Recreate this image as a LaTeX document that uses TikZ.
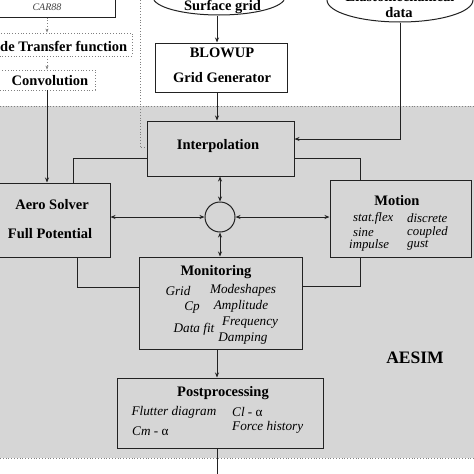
\documentclass[tikz,border=0pt]{standalone}
\usepackage{fontspec}
\setmainfont{Liberation Serif}
\usetikzlibrary{arrows.meta,shapes.geometric}
\definecolor{bg}{RGB}{214,214,214}
\definecolor{ln}{RGB}{34,34,34}
\begin{document}
\begin{tikzpicture}[x=1pt,y=-1pt,
  box/.style={draw=ln, line width=1pt, fill=bg, inner sep=0pt, rectangle},
  wbox/.style={box, fill=white},
  dbox/.style={draw=gray, dotted, line width=0.8pt, fill=white, inner sep=0pt, rectangle},
  oval/.style={draw=ln, line width=1pt, fill=white, ellipse, inner sep=0pt},
  lab/.style={font=\fontsize{14.5}{16}\selectfont\bfseries, inner sep=0pt, text=black},
  itm/.style={font=\fontsize{12.8}{14}\selectfont\itshape, inner sep=0pt, text=black},
  itp/.style={font=\fontsize{13.2}{15}\selectfont\itshape, inner sep=0pt, text=black},
  con/.style={draw=ln, line width=1pt},
  arr/.style={con, -{Stealth[length=5pt,width=4pt]}},
  darr/.style={con, {Stealth[length=5pt,width=4pt]}-{Stealth[length=5pt,width=4pt]}},
  dcon/.style={draw=gray, dotted, line width=0.8pt},
]
\useasboundingbox (0,0) rectangle (474,474);
% gray region
\fill[bg] (0,106) rectangle (474,458);
\coordinate (gl) at (0,106);
\coordinate (gr) at (474,106);
\coordinate (bl) at (0,458);
\coordinate (br) at (474,458);
\draw[dcon] (gl) -- (gr);
\draw[dcon] (bl) -- (br);

% column helpers
\coordinate (colx) at (47,0);
\coordinate (colc) at (217,0);
\coordinate (bendl) at (73,158);
\coordinate (bendr) at (360,158);
\coordinate (bendml) at (77,287);
\coordinate (bendmr) at (360,286);
\coordinate (dotv) at (140,147);
\coordinate (dott) at (140,0);
\coordinate (bottom) at (217,474);

% top-left boxes
\node[wbox, minimum width=125pt, minimum height=37pt] (car) at (52.5,-1.5) {};
\node[font=\fontsize{10}{12}\selectfont\itshape, text=black!75, inner sep=0pt] (carl) at (47,7) {CAR88};
\node[dbox, minimum width=152pt, minimum height=23pt] (tf) at (56,44.5) {};
\node[lab, anchor=west] (tfl) at (0,46) {de Transfer function};
\node[dbox, minimum width=98pt, minimum height=20pt] (conv) at (46,80) {};
\node[lab] (convl) at (50,80.5) {Convolution};

% ellipses
\node[oval, minimum width=132pt, minimum height=36pt] (surf) at (219,-3) {};
\node[lab] (surfl) at (222.5,7) {Surface grid};
\node[oval, minimum width=146pt, minimum height=44pt] (elas) at (400,0) {};
\node[lab] (elasl1) at (400,-3) {Elastomechanical};
\node[lab] (elasl2) at (399,12.5) {data};

% BLOWUP
\node[wbox, minimum width=132pt, minimum height=49pt] (blow) at (221,67.5) {};
\node[lab] (blowl1) at (222,53) {BLOWUP};
\node[lab] (blowl2) at (222,78) {Grid Generator};

% Interpolation
\node[box, minimum width=147pt, minimum height=55pt] (interp) at (220.5,148.5) {};
\node[lab] (interpl) at (218,146.5) {Interpolation};

% Aero solver
\node[box, minimum width=115pt, minimum height=74pt] (aero) at (52.5,220) {};
\node[lab] (aerol1) at (52,205) {Aero Solver};
\node[lab] (aerol2) at (50,234) {Full Potential};

% Motion
\node[box, minimum width=141pt, minimum height=77pt] (mot) at (400.5,218.5) {};
\node[lab] (motl) at (397,201) {Motion};
\node[itm, anchor=west] (m1) at (353,218.5) {stat.flex};
\node[itm, anchor=west] (m2) at (353,232) {sine};
\node[itm, anchor=west] (m3) at (349,245.5) {impulse};
\node[itm, anchor=west] (m4) at (407,218.5) {discrete};
\node[itm, anchor=west] (m5) at (407,232) {coupled};
\node[itm, anchor=west] (m6) at (407,245.5) {gust};

% circle
\node[draw=ln, line width=1pt, circle, minimum size=30pt, inner sep=0pt, fill=bg] (circ) at (220,217) {};

% Monitoring
\node[box, minimum width=163pt, minimum height=92pt] (mon) at (220.5,303) {};
\node[lab] (monl) at (216,272) {Monitoring};
\node[itp] (i1) at (178,291) {Grid};
\node[itp] (i2) at (243,290) {Modeshapes};
\node[itp] (i3) at (192,308) {Cp};
\node[itp] (i4) at (241,306) {Amplitude};
\node[itp] (i5) at (194,329) {Data fit};
\node[itp] (i6) at (250,323) {Frequency};
\node[itp] (i7) at (243,339) {Damping};

% Postprocessing
\node[box, minimum width=206pt, minimum height=70pt] (post) at (220,413) {};
\node[lab] (postl) at (223,393) {Postprocessing};
\node[itp] (p1) at (174,412) {Flutter diagram};
\node[itp, anchor=west] (p2) at (232,412) {Cl - {\upshape α}};
\node[itp, anchor=west] (p3) at (132,431) {Cm - {\upshape α}};
\node[itp, anchor=west] (p4) at (232,427) {Force history};

% AESIM
\node[font=\fontsize{17.5}{20}\selectfont\bfseries, inner sep=0pt] (aesim) at (415,358) {AESIM};

% connectors, top
\draw[dcon, -{Stealth[length=4pt,width=3pt]}] (car.south -| colx) -- (tf.north -| colx);
\draw[dcon, -{Stealth[length=4pt,width=3pt]}] (tf.south -| colx) -- (conv.north -| colx);
\draw[arr] (conv.south -| colx) -- (aero.north -| colx);
\draw[arr] (surf.south -| colc) -- (blow.north -| colc);
\draw[arr] (blow.south -| colc) -- (interp.north -| colc);
\draw[arr] (elas.south) |- ([yshift=9.5pt]interp.east);
\draw[dcon] (dott) -- (dotv) -- (dotv -| interp.west);

% interpolation to solver / motion
\draw[con] (interp.west |- bendl) -| (bendl |- aero.north);
\draw[con] (interp.east |- bendr) -| (bendr |- mot.north);

% circle arrows
\draw[darr] (interp.south -| circ) -- (circ.north);
\draw[darr] (circ.west -| aero.east) -- (circ.west);
\draw[darr] (circ.east) -- (circ.east -| mot.west);
\draw[darr] (circ.south) -- (circ.south |- mon.north);

% to monitoring
\draw[con] (aero.south -| bendml) |- (mon.west |- bendml);
\draw[con] (mot.south -| bendmr) |- (mon.east |- bendmr);

% to postprocessing
\draw[arr] (mon.south -| colc) -- (post.north -| colc);
\draw[con] (post.south -| colc) -- (bottom);
\end{tikzpicture}
\end{document}
